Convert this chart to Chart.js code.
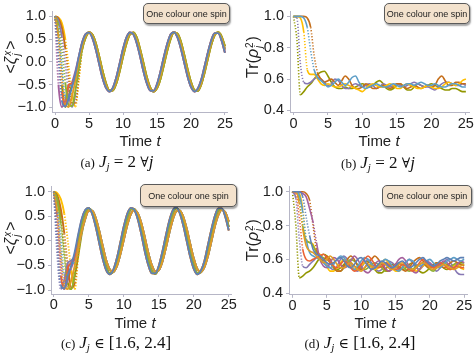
<!DOCTYPE html>
<html>
<head>
<meta charset="utf-8">
<script src="https://cdn.jsdelivr.net/npm/chart.js@4.4.1/dist/chart.umd.min.js"></script>
<style>
  body { margin: 0; background: #fff; width: 474px; height: 353px; overflow: hidden; position: relative;
         font-family: "Liberation Sans", Arial, sans-serif; color: #222; }
  canvas { position: absolute; }
  .ytitle { position: absolute; transform: translate(-50%, -50%) rotate(-90deg); white-space: nowrap; font-size: 16px; }
  .ss { display: inline-flex; flex-direction: column; font-size: 10px; line-height: 9px; vertical-align: middle; margin: 0 1px; }
  .xtitle { position: absolute; transform: translate(-50%, -50%); font-size: 15px; white-space: nowrap; }
  .caption { position: absolute; transform: translate(-50%, -50%); font-family: "Liberation Serif", "Times New Roman", serif;
             font-size: 17px; line-height: 18px; white-space: nowrap; color: #111; }
  .caption .tag { font-size: 13px; margin-right: 4px; }
  .caption .sb { font-size: 11px; position: relative; top: 3px; }
  .caption .op { font-family: "DejaVu Serif", serif; font-size: 14px; }
  .legend { position: absolute; box-sizing: border-box; border: 1px solid #5a5a5a; border-radius: 5px; background: #f3e2cd;
            font-size: 9px; display: flex; align-items: center; justify-content: center;
            box-shadow: 1px 1.5px 1.5px rgba(0,0,0,0.35); color: #222; }
</style>
</head>
<body>
<canvas id="chart-a" width="237" height="135" style="left:0;top:0"></canvas>
<canvas id="chart-b" width="237" height="135" style="left:237px;top:0"></canvas>
<canvas id="chart-c" width="237" height="140" style="left:0;top:175px"></canvas>
<canvas id="chart-d" width="237" height="140" style="left:237px;top:175px"></canvas>

<div class="ytitle" style="left:11px;top:57px">&lt;<i>ζ</i><span class="ss"><i>x</i><i>j</i></span>&gt;</div>
<div class="ytitle" style="left:253px;top:57px">Tr(<i>ρ</i><span class="ss"><span>2</span><i>j</i></span>)</div>
<div class="ytitle" style="left:11px;top:238px">&lt;<i>ζ</i><span class="ss"><i>x</i><i>j</i></span>&gt;</div>
<div class="ytitle" style="left:253px;top:240px">Tr(<i>ρ</i><span class="ss"><span>2</span><i>j</i></span>)</div>

<div class="xtitle" style="left:140px;top:140px">Time <i>t</i></div>
<div class="xtitle" style="left:379px;top:140px">Time <i>t</i></div>
<div class="xtitle" style="left:135px;top:322px">Time <i>t</i></div>
<div class="xtitle" style="left:375px;top:322px">Time <i>t</i></div>

<div class="caption" style="left:117px;top:162px"><span class="tag">(a)</span><i>J<span class="sb">j</span></i> = 2 <span class="op">∀</span><i>j</i></div>
<div class="caption" style="left:378px;top:163px"><span class="tag">(b)</span><i>J<span class="sb">j</span></i> = 2 <span class="op">∀</span><i>j</i></div>
<div class="caption" style="left:116px;top:343px"><span class="tag">(c)</span><i>J<span class="sb">j</span></i> <span class="op">∈</span> [1.6, 2.4]</div>
<div class="caption" style="left:360px;top:343px"><span class="tag">(d)</span><i>J<span class="sb">j</span></i> <span class="op">∈</span> [1.6, 2.4]</div>

<div class="legend" style="left:143px;top:3px;width:87px;height:21px">One colour one spin</div>
<div class="legend" style="left:384px;top:3px;width:86px;height:21px">One colour one spin</div>
<div class="legend" style="left:140px;top:184px;width:97px;height:23px">One colour one spin</div>
<div class="legend" style="left:382px;top:185px;width:90px;height:22px">One colour one spin</div>

<script>
// sample times shared by every series
const times = [
  0, 0.5, 1, 1.5, 2, 2.5, 3, 3.5, 4, 4.5,
  5, 5.5, 6, 6.5, 7, 7.5, 8, 8.5, 9, 9.5,
  10, 10.5, 11, 11.5, 12, 12.5, 13, 13.5, 14, 14.5,
  15, 15.5, 16, 16.5, 17, 17.5, 18, 18.5, 19, 19.5,
  20, 20.5, 21, 21.5, 22, 22.5, 23, 23.5, 24, 24.5, 25
];
const xTicks = [0, 5, 10, 15, 20, 25];
const zetaTicks = [-1, -0.5, 0, 0.5, 1];
const purityTicks = [0.4, 0.5, 0.6, 0.7, 0.8, 0.9, 1.0];

// (a) <zeta_j^x>, J_j = 2: early part (t = 0 .. 4.5) per spin
const aBlueHead    = [1.0, 0.1, -0.85, -0.98, -0.8, -0.55, -0.25, 0.12, 0.43, 0.61];
const aOrangeHead  = [1.0, 0.55, -0.3, -0.92, -0.99, -0.75, -0.4, 0.02, 0.35, 0.57];
const aGreenHead   = [1.0, 0.8, 0.25, -0.45, -0.95, -0.97, -0.62, -0.15, 0.28, 0.53];
const aRedHead     = [1.0, 0.3, -0.65, -0.97, -0.5, -0.47, -0.3, 0.1, 0.43, 0.61];
const aPurpleHead  = [1.0, 0.9, 0.55, -0.05, -0.7, -0.99, -0.7, -0.1, 0.35, 0.57];
const aBrownHead   = [1.0, 0.95, 0.75, 0.3, -0.35, -0.9, -0.9, -0.3, 0.28, 0.53];
const aSkyHead     = [1.0, 0.65, -0.1, -0.8, -0.52, -0.5, -0.35, 0.02, 0.35, 0.57];
const aYellowHead  = [1.0, 0.97, 0.85, 0.5, -0.1, -0.7, -0.98, -0.4, 0.28, 0.53];
const aMagentaHead = [1.0, -0.5, -0.99, -0.85, -0.55, -0.45, -0.2, 0.12, 0.43, 0.61];
const aOliveHead   = [1.0, 0.45, -0.5, -0.99, -0.75, -0.5, -0.35, 0.02, 0.35, 0.57];
// (a) late oscillation (t = 5 .. 25), three slightly shifted groups
const aTailLead = [
  0.64, 0.52, 0.27, -0.05, -0.36, -0.57, -0.65, -0.57, -0.35, -0.04,
  0.28, 0.53, 0.645, 0.61, 0.42, 0.13, -0.2, -0.47, -0.63, -0.635,
  -0.49, -0.22, 0.1, 0.39, 0.6, 0.65, 0.54, 0.3, -0.01, -0.32,
  -0.55, -0.65, -0.59, -0.4, -0.1, 0.21, 0.48, 0.63, 0.63, 0.47, 0.2
];
const aTailBase = [
  0.65, 0.57, 0.35, 0.05, -0.27, -0.52, -0.64, -0.61, -0.43, -0.14,
  0.18, 0.46, 0.62, 0.63, 0.49, 0.23, -0.1, -0.39, -0.59, -0.65,
  -0.55, -0.31, 0.0, 0.31, 0.55, 0.65, 0.59, 0.39, 0.09, -0.23,
  -0.49, -0.64, -0.62, -0.46, -0.18, 0.14, 0.43, 0.61, 0.64, 0.52, 0.27
];
const aTailLag = [
  0.645, 0.6, 0.41, 0.12, -0.2, -0.47, -0.63, -0.63, -0.48, -0.21,
  0.11, 0.4, 0.6, 0.645, 0.54, 0.29, -0.02, -0.33, -0.56, -0.65,
  -0.58, -0.38, -0.08, 0.24, 0.5, 0.64, 0.62, 0.45, 0.16, -0.16,
  -0.44, -0.62, -0.64, -0.5, -0.24, 0.08, 0.38, 0.59, 0.65, 0.56, 0.34
];

// (b) Tr(rho_j^2), J_j = 2
const bPurple = [
  1.0, 0.99, 0.7, 0.58, 0.57, 0.58, 0.6, 0.61, 0.6, 0.58,
  0.56, 0.57, 0.6, 0.59, 0.56, 0.54, 0.54, 0.56, 0.57, 0.56,
  0.55, 0.56, 0.57, 0.56, 0.54, 0.55, 0.57, 0.56, 0.55, 0.56,
  0.57, 0.56, 0.55, 0.56, 0.57, 0.58, 0.57, 0.56, 0.55, 0.55,
  0.54, 0.53, 0.55, 0.57, 0.58, 0.58, 0.57, 0.56, 0.56, 0.57, 0.56
];
const bGreen = [
  1.0, 0.85, 0.5, 0.52, 0.55, 0.57, 0.6, 0.63, 0.645, 0.65,
  0.62, 0.58, 0.55, 0.54, 0.54, 0.55, 0.54, 0.54, 0.55, 0.56,
  0.57, 0.56, 0.55, 0.56, 0.58, 0.59, 0.57, 0.54, 0.53, 0.54,
  0.56, 0.57, 0.55, 0.53, 0.53, 0.55, 0.57, 0.56, 0.55, 0.56,
  0.57, 0.56, 0.55, 0.54, 0.53, 0.53, 0.54, 0.54, 0.53, 0.52, 0.52
];
const bYellow = [
  1.0, 1.0, 0.99, 0.9, 0.66, 0.63, 0.63, 0.6, 0.57, 0.56,
  0.57, 0.56, 0.55, 0.55, 0.56, 0.57, 0.56, 0.55, 0.54, 0.53,
  0.52, 0.54, 0.56, 0.57, 0.56, 0.55, 0.55, 0.56, 0.57, 0.56,
  0.54, 0.54, 0.56, 0.57, 0.56, 0.55, 0.54, 0.54, 0.55, 0.56,
  0.55, 0.54, 0.54, 0.55, 0.57, 0.58, 0.57, 0.56, 0.57, 0.59, 0.6
];
const bBlue = [
  1.0, 1.0, 1.0, 0.99, 0.93, 0.78, 0.66, 0.61, 0.59, 0.57,
  0.55, 0.56, 0.58, 0.6, 0.58, 0.56, 0.58, 0.61, 0.62, 0.58,
  0.55, 0.54, 0.55, 0.56, 0.57, 0.56, 0.55, 0.55, 0.56, 0.57,
  0.56, 0.55, 0.56, 0.57, 0.57, 0.56, 0.57, 0.58, 0.57, 0.56,
  0.56, 0.57, 0.56, 0.55, 0.55, 0.56, 0.57, 0.57, 0.56, 0.55, 0.55
];
const bBrown = [
  1.0, 1.0, 1.0, 1.0, 0.99, 0.93, 0.75, 0.64, 0.6, 0.58,
  0.59, 0.6, 0.58, 0.56, 0.59, 0.62, 0.6, 0.56, 0.54, 0.54,
  0.55, 0.57, 0.56, 0.54, 0.54, 0.55, 0.56, 0.55, 0.54, 0.55,
  0.57, 0.57, 0.55, 0.54, 0.55, 0.56, 0.55, 0.54, 0.55, 0.56,
  0.55, 0.56, 0.6, 0.62, 0.59, 0.56, 0.56, 0.58, 0.58, 0.57, 0.57
];

// (c) <zeta_j^x>, J_j in [1.6, 2.4]: early part per spin
const cBlueHead    = [1.0, 0.0, -0.9, -0.97, -0.7, -0.5, -0.22, 0.14, 0.45, 0.63];
const cOrangeHead  = [1.0, 0.6, -0.25, -0.9, -0.98, -0.8, -0.5, -0.15, 0.2, 0.45];
const cGreenHead   = [1.0, 0.85, 0.35, -0.35, -0.92, -0.98, -0.65, -0.1, 0.35, 0.57];
const cRedHead     = [1.0, 0.25, -0.7, -0.98, -0.55, -0.45, -0.3, 0.1, 0.44, 0.62];
const cPurpleHead  = [1.0, -0.3, -0.98, -0.8, -0.45, -0.4, -0.3, -0.1, 0.2, 0.45];
const cBrownHead   = [1.0, 0.92, 0.65, 0.15, -0.5, -0.95, -0.85, -0.2, 0.35, 0.57];
const cSkyHead     = [1.0, 0.7, 0.0, -0.7, -0.55, -0.45, -0.45, -0.15, 0.2, 0.45];
const cYellowHead  = [1.0, 0.97, 0.85, 0.55, 0.0, -0.6, -0.98, -0.3, 0.4, 0.62];
const cMagentaHead = [1.0, 0.5, -0.45, -0.98, -0.8, -0.55, -0.35, 0.02, 0.35, 0.57];
const cOliveHead   = [1.0, 0.88, 0.45, -0.2, -0.85, -0.98, -0.7, -0.3, 0.15, 0.45];
const cTailLead = [
  0.67, 0.54, 0.28, -0.05, -0.37, -0.6, -0.68, -0.59, -0.36, -0.04,
  0.29, 0.55, 0.67, 0.63, 0.44, 0.14, -0.21, -0.49, -0.66, -0.66,
  -0.51, -0.23, 0.1, 0.41, 0.62, 0.68, 0.56, 0.31, -0.01, -0.33,
  -0.57, -0.68, -0.61, -0.42, -0.1, 0.22, 0.5, 0.66, 0.66, 0.49, 0.21
];
const cTailBase = [
  0.66, 0.58, 0.36, 0.05, -0.28, -0.53, -0.66, -0.63, -0.44, -0.14,
  0.19, 0.47, 0.64, 0.65, 0.5, 0.23, -0.1, -0.4, -0.61, -0.67,
  -0.56, -0.32, 0.0, 0.32, 0.56, 0.66, 0.6, 0.4, 0.09, -0.24,
  -0.5, -0.65, -0.64, -0.47, -0.18, 0.14, 0.44, 0.62, 0.65, 0.53, 0.28
];
const cTailLag = [
  0.61, 0.61, 0.46, 0.2, -0.11, -0.4, -0.58, -0.63, -0.52, -0.28,
  0.02, 0.32, 0.54, 0.63, 0.56, 0.36, 0.07, -0.24, -0.49, -0.62,
  -0.6, -0.43, -0.15, 0.16, 0.43, 0.6, 0.62, 0.49, 0.24, -0.07,
  -0.36, -0.57, -0.63, -0.54, -0.32, -0.02, 0.29, 0.52, 0.63, 0.58, 0.39
];

// (d) Tr(rho_j^2), J_j in [1.6, 2.4]
const dPurple = [
  1.0, 0.96, 0.72, 0.56, 0.55, 0.57, 0.59, 0.61, 0.62, 0.6,
  0.57, 0.55, 0.54, 0.56, 0.6, 0.62, 0.6, 0.57, 0.54, 0.53,
  0.55, 0.58, 0.6, 0.58, 0.55, 0.53, 0.54, 0.57, 0.59, 0.58,
  0.56, 0.54, 0.55, 0.58, 0.6, 0.58, 0.55, 0.54, 0.56, 0.58,
  0.57, 0.55, 0.53, 0.55, 0.58, 0.6, 0.58, 0.55, 0.52, 0.51, 0.51
];
const dOlive = [
  1.0, 0.8, 0.49, 0.5, 0.52, 0.53, 0.55, 0.58, 0.61, 0.63,
  0.62, 0.58, 0.55, 0.54, 0.55, 0.57, 0.59, 0.58, 0.56, 0.55,
  0.56, 0.58, 0.59, 0.57, 0.54, 0.52, 0.52, 0.54, 0.56, 0.57,
  0.56, 0.55, 0.54, 0.55, 0.57, 0.58, 0.56, 0.53, 0.52, 0.53,
  0.55, 0.57, 0.58, 0.57, 0.55, 0.54, 0.55, 0.56, 0.57, 0.58, 0.58
];
const dSky = [
  1.0, 1.0, 0.98, 0.88, 0.72, 0.64, 0.62, 0.61, 0.6, 0.58,
  0.56, 0.55, 0.57, 0.6, 0.62, 0.61, 0.58, 0.55, 0.54, 0.56,
  0.59, 0.61, 0.6, 0.57, 0.55, 0.56, 0.58, 0.6, 0.59, 0.56,
  0.54, 0.53, 0.55, 0.58, 0.6, 0.59, 0.57, 0.56, 0.57, 0.59,
  0.6, 0.58, 0.56, 0.55, 0.57, 0.59, 0.6, 0.61, 0.6, 0.59, 0.6
];
const dYellow = [
  1.0, 1.0, 0.99, 0.9, 0.72, 0.7, 0.69, 0.64, 0.63, 0.6,
  0.56, 0.53, 0.53, 0.55, 0.58, 0.6, 0.59, 0.56, 0.54, 0.54,
  0.56, 0.58, 0.57, 0.55, 0.54, 0.55, 0.58, 0.6, 0.58, 0.55,
  0.53, 0.53, 0.55, 0.57, 0.56, 0.54, 0.53, 0.54, 0.56, 0.57,
  0.56, 0.55, 0.56, 0.58, 0.57, 0.55, 0.54, 0.56, 0.57, 0.55, 0.54
];
const dGreen = [
  1.0, 1.0, 0.95, 0.8, 0.71, 0.7, 0.68, 0.64, 0.62, 0.61,
  0.6, 0.58, 0.55, 0.53, 0.53, 0.55, 0.58, 0.6, 0.59, 0.57,
  0.55, 0.54, 0.55, 0.57, 0.58, 0.57, 0.55, 0.53, 0.53, 0.55,
  0.57, 0.58, 0.56, 0.54, 0.53, 0.54, 0.56, 0.57, 0.58, 0.56,
  0.54, 0.53, 0.55, 0.57, 0.58, 0.57, 0.56, 0.57, 0.58, 0.57, 0.57
];
const dBrown = [
  1.0, 1.0, 1.0, 1.0, 0.99, 0.95, 0.8, 0.66, 0.61, 0.59,
  0.62, 0.6, 0.56, 0.53, 0.53, 0.56, 0.6, 0.62, 0.6, 0.56,
  0.54, 0.55, 0.58, 0.6, 0.62, 0.6, 0.57, 0.54, 0.53, 0.55,
  0.57, 0.56, 0.54, 0.53, 0.55, 0.58, 0.6, 0.61, 0.59, 0.56,
  0.55, 0.56, 0.58, 0.57, 0.55, 0.56, 0.58, 0.59, 0.58, 0.57, 0.56
];
const dMagenta = [
  1.0, 1.0, 1.0, 0.99, 0.97, 0.9, 0.82, 0.7, 0.6, 0.56,
  0.55, 0.58, 0.61, 0.6, 0.57, 0.55, 0.56, 0.59, 0.62, 0.6,
  0.56, 0.53, 0.52, 0.54, 0.57, 0.59, 0.58, 0.55, 0.53, 0.54,
  0.57, 0.6, 0.61, 0.59, 0.56, 0.53, 0.52, 0.54, 0.57, 0.59,
  0.58, 0.56, 0.55, 0.57, 0.59, 0.58, 0.56, 0.55, 0.57, 0.59, 0.58
];
const dOrange = [
  1.0, 1.0, 0.93, 0.78, 0.68, 0.65, 0.64, 0.62, 0.6, 0.58,
  0.6, 0.62, 0.6, 0.57, 0.55, 0.55, 0.57, 0.58, 0.56, 0.54,
  0.53, 0.55, 0.57, 0.56, 0.55, 0.56, 0.58, 0.57, 0.55, 0.54,
  0.55, 0.57, 0.58, 0.57, 0.55, 0.54, 0.55, 0.57, 0.58, 0.57,
  0.55, 0.54, 0.55, 0.56, 0.57, 0.56, 0.55, 0.54, 0.55, 0.56, 0.57
];
const dBlue = [
  1.0, 1.0, 1.0, 0.97, 0.85, 0.74, 0.66, 0.63, 0.62, 0.6,
  0.58, 0.57, 0.58, 0.6, 0.61, 0.59, 0.56, 0.55, 0.57, 0.6,
  0.61, 0.59, 0.56, 0.54, 0.55, 0.57, 0.59, 0.58, 0.56, 0.55,
  0.56, 0.58, 0.59, 0.57, 0.55, 0.56, 0.58, 0.6, 0.61, 0.59,
  0.57, 0.56, 0.57, 0.59, 0.6, 0.61, 0.6, 0.59, 0.6, 0.61, 0.61
];
const dRed = [
  1.0, 0.99, 0.85, 0.66, 0.6, 0.59, 0.6, 0.61, 0.62, 0.63,
  0.61, 0.58, 0.56, 0.55, 0.57, 0.59, 0.58, 0.55, 0.53, 0.54,
  0.57, 0.6, 0.62, 0.6, 0.57, 0.55, 0.56, 0.58, 0.57, 0.55,
  0.54, 0.55, 0.57, 0.56, 0.54, 0.53, 0.55, 0.58, 0.6, 0.58,
  0.56, 0.55, 0.56, 0.58, 0.57, 0.55, 0.54, 0.55, 0.56, 0.55, 0.55
];

// Mathematica default plot colours
const COLORS = {
  blue: '#5e81b5', orange: '#e19c24', green: '#8fb032', red: '#eb6235', purple: '#8778b3',
  brown: '#c56e1a', sky: '#5d9ec7', yellow: '#ffbf00', magenta: '#a5609d', olive: '#929600'
};
const AXIS = '#b6b6c6';
const TICK_FONT = { family: '"Liberation Sans", Arial, sans-serif', size: 14.5 };

function makePanel(id, geom, series, opts) {
  return new Chart(document.getElementById(id), {
    type: 'line',
    data: {
      datasets: series.map(s => ({
        data: s.values.map((y, i) => ({ x: times[i], y })),
        borderColor: COLORS[s.color],
        borderWidth: opts.lineWidth,
        pointRadius: 0,
        cubicInterpolationMode: 'monotone',
        segment: {
          borderDash: ctx => Math.abs(ctx.p1.parsed.y - ctx.p0.parsed.y) > opts.dashJump ? [1.2, 1.8] : undefined
        }
      }))
    },
    options: {
      responsive: false,
      animation: false,
      layout: { padding: { top: geom.top, right: geom.right, left: 0, bottom: 0 } },
      plugins: { legend: { display: false }, tooltip: { enabled: false } },
      scales: {
        x: {
          type: 'linear', min: opts.xMin, max: opts.xMax,
          afterFit: s => { s.height = geom.bottom; },
          afterBuildTicks: s => { s.ticks = xTicks.map(v => ({ value: v })); },
          grid: { drawOnChartArea: false, tickLength: 3, color: AXIS },
          border: { color: AXIS },
          ticks: { color: '#222', font: TICK_FONT, padding: geom.xPad, maxRotation: 0, callback: v => String(v) }
        },
        y: {
          type: 'linear', min: opts.yMin, max: opts.yMax,
          afterFit: s => { s.width = geom.left; },
          afterBuildTicks: s => { s.ticks = opts.yTicks.map(v => ({ value: v })); },
          grid: { drawOnChartArea: false, tickLength: 3, color: AXIS },
          border: { color: AXIS },
          ticks: { color: '#222', font: TICK_FONT, padding: 3, callback: v => v.toFixed(1).replace('-', '\u2212') }
        }
      }
    }
  });
}

makePanel('chart-a', { left: 52, top: 2, right: 10, bottom: 23, xPad: 0 }, [
  { values: aBlueHead.concat(aTailLead), color: 'blue' },
  { values: aOrangeHead.concat(aTailBase), color: 'orange' },
  { values: aGreenHead.concat(aTailLag), color: 'green' },
  { values: aRedHead.concat(aTailLead), color: 'red' },
  { values: aPurpleHead.concat(aTailBase), color: 'purple' },
  { values: aBrownHead.concat(aTailLag), color: 'brown' },
  { values: aSkyHead.concat(aTailBase), color: 'sky' },
  { values: aYellowHead.concat(aTailLag), color: 'yellow' },
  { values: aMagentaHead.concat(aTailLead), color: 'magenta' },
  { values: aOliveHead.concat(aTailBase), color: 'olive' }
], { xMin: -0.45, xMax: 25.3, yMin: -1.1, yMax: 1.1, yTicks: zetaTicks, dashJump: 0.5, lineWidth: 1.9 });

makePanel('chart-b', { left: 53, top: 5, right: 3.5, bottom: 23, xPad: 0 }, [
  { values: bBlue, color: 'sky' },
  { values: bYellow, color: 'yellow' },
  { values: bBrown, color: 'brown' },
  { values: bPurple, color: 'purple' },
  { values: bGreen, color: 'olive' }
], { xMin: -0.5, xMax: 25.5, yMin: 0.39, yMax: 1.03, yTicks: purityTicks, dashJump: 0.1, lineWidth: 1.6 });

makePanel('chart-c', { left: 51, top: 11, right: 5.4, bottom: 21, xPad: -1 }, [
  { values: cBlueHead.concat(cTailLead), color: 'blue' },
  { values: cOrangeHead.concat(cTailLag), color: 'orange' },
  { values: cGreenHead.concat(cTailBase), color: 'green' },
  { values: cRedHead.concat(cTailLead), color: 'red' },
  { values: cPurpleHead.concat(cTailLag), color: 'purple' },
  { values: cBrownHead.concat(cTailBase), color: 'brown' },
  { values: cSkyHead.concat(cTailLag), color: 'sky' },
  { values: cYellowHead.concat(cTailLead), color: 'yellow' },
  { values: cMagentaHead.concat(cTailBase), color: 'magenta' },
  { values: cOliveHead.concat(cTailLag), color: 'olive' }
], { xMin: -0.4, xMax: 25.4, yMin: -1.08, yMax: 1.1, yTicks: zetaTicks, dashJump: 0.5, lineWidth: 1.9 });

makePanel('chart-d', { left: 52, top: 11.6, right: 6.4, bottom: 20.2, xPad: -1 }, [
  { values: dBlue, color: 'blue' },
  { values: dOrange, color: 'orange' },
  { values: dRed, color: 'red' },
  { values: dSky, color: 'sky' },
  { values: dMagenta, color: 'magenta' },
  { values: dBrown, color: 'brown' },
  { values: dGreen, color: 'green' },
  { values: dYellow, color: 'yellow' },
  { values: dPurple, color: 'purple' },
  { values: dOlive, color: 'olive' }
], { xMin: -0.5, xMax: 25.5, yMin: 0.39, yMax: 1.03, yTicks: purityTicks, dashJump: 0.1, lineWidth: 1.6 });
</script>
</body>
</html>
